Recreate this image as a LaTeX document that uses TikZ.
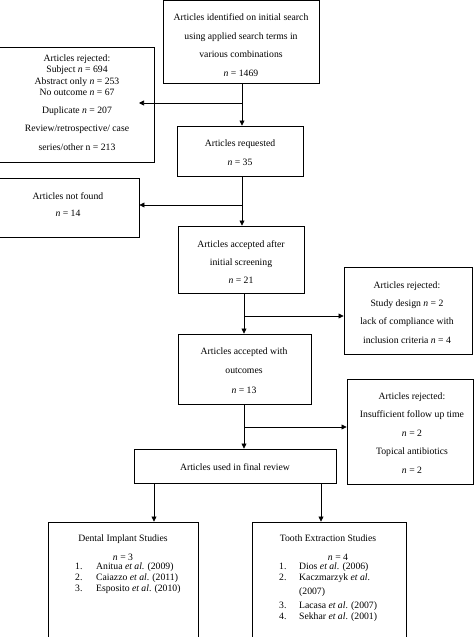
\documentclass[tikz,border=0pt]{standalone}
\usepackage{fontspec}
\setmainfont{Liberation Serif}
\usetikzlibrary{arrows.meta}
\begin{document}
\begin{tikzpicture}[x=1pt,y=-1pt,
  box/.style={draw, line width=0.9pt, inner sep=0pt},
  txt/.style={inner sep=0pt, align=center, font=\fontsize{9.7}{#1}\selectfont},
  txt/.default=11,
  conn/.style={line width=0.7pt},
  arr/.style={conn, -{Triangle[length=5pt,width=5pt]}}]
\useasboundingbox (0,0) rectangle (474,637);
% boxes
\node[box, minimum width=156pt, minimum height=82.4pt] (b1) at (241,41.8) {};
\node[box, minimum width=158pt, minimum height=115pt] (r1) at (75,104.5) {};
\node[box, minimum width=126pt, minimum height=50pt] (b2) at (240,151) {};
\node[box, minimum width=143pt, minimum height=59pt] (r2) at (67.5,207.5) {};
\node[box, minimum width=126pt, minimum height=67pt] (b3) at (241,259.5) {};
\node[box, minimum width=128pt, minimum height=87pt] (r3) at (408,310.5) {};
\node[box, minimum width=133pt, minimum height=70pt] (b4) at (244.5,369) {};
\node[box, minimum width=126pt, minimum height=105pt] (r4) at (410,431.5) {};
\node[box, minimum width=202pt, minimum height=34pt] (b5) at (235,466) {};
\node[box, minimum width=150pt, minimum height=123pt] (b6) at (123,583.5) {};
\node[box, minimum width=154pt, minimum height=123pt] (b7) at (329,583.5) {};
% texts
\node[txt=18.7] (t1) at (241,45) {Articles identified on initial search\\using applied search terms in\\various combinations\\\textit{n} = 1469};
\node[txt=11.3] (tr1) at (77,102.5) {Articles rejected:\\Subject \textit{n} = 694\\Abstract only \textit{n} = 253\\No outcome \textit{n} = 67\\[7pt]Duplicate \textit{n} = 207\\[7pt]Review/retrospective/ case\\[7pt]series/other n = 213};
\node[txt=19] (t2) at (240,152.5) {Articles requested\\\textit{n} = 35};
\node[txt=17] (tr2) at (68,204.5) {Articles not found\\\textit{n} = 14};
\node[txt=18] (t3) at (241,262) {Articles accepted after\\initial screening\\\textit{n} = 21};
\node[txt=18.3] (tr3) at (407,312.5) {Articles rejected:\\Study design \textit{n} = 2\\lack of compliance with\\inclusion criteria \textit{n} = 4};
\node[txt=19.5] (t4) at (244,370.5) {Articles accepted with\\outcomes\\\textit{n} = 13};
\node[txt=18.5] (tr4) at (412,433) {Articles rejected:\\Insufficient follow up time\\\textit{n} = 2\\Topical antibiotics\\\textit{n} = 2};
\node[txt] (t5) at (235,467) {Articles used in final review};
\node[txt=19] (t6) at (123,547.5) {Dental Implant Studies\\\textit{n} = 3};
\node[txt, align=left, anchor=north west] (l6) at (75,562.5) {\makebox[21pt][l]{1.}Anitua \textit{et al}. (2009)\\\makebox[21pt][l]{2.}Caiazzo \textit{et al}. (2011)\\\makebox[21pt][l]{3.}Esposito \textit{et al}. (2010)};
\node[txt=19] (t7) at (328,547.5) {Tooth Extraction Studies\\\hspace*{20pt}\textit{n} = 4};
\node[txt, align=left, anchor=north west] (l7) at (279,562.5) {\makebox[20pt][l]{1.}Dios \textit{et al}. (2006)\\\makebox[20pt][l]{2.}Kaczmarzyk \textit{et al}.\\[3pt]\makebox[20pt][l]{}(2007)\\[3pt]\makebox[20pt][l]{3.}Lacasa \textit{et al}. (2007)\\\makebox[20pt][l]{4.}Sekhar \textit{et al}. (2001)};
% connectors
\coordinate (j1) at (242,103);
\coordinate (e1) at (139,103);
\draw[arr] (b1.south -| j1) -- (b2.north -| j1);
\draw[arr] (j1) -- (e1);
\coordinate (j2) at (242,205);
\draw[arr] (b2.south -| j2) -- (b3.north -| j2);
\draw[arr] (j2) -- (r2.east |- j2);
\coordinate (j3) at (244,316);
\draw[arr] (b3.south -| j3) -- (b4.north -| j3);
\draw[arr] (j3) -- (r3.west |- j3);
\coordinate (j4) at (244,427);
\draw[arr] (b4.south -| j4) -- (b5.north -| j4);
\draw[arr] (j4) -- (r4.west |- j4);
\coordinate (s6) at (154,483);
\coordinate (s7) at (321,483);
\draw[arr] (b5.south -| s6) -- (b6.north -| s6);
\draw[arr] (b5.south -| s7) -- (b7.north -| s7);
\end{tikzpicture}
\end{document}
